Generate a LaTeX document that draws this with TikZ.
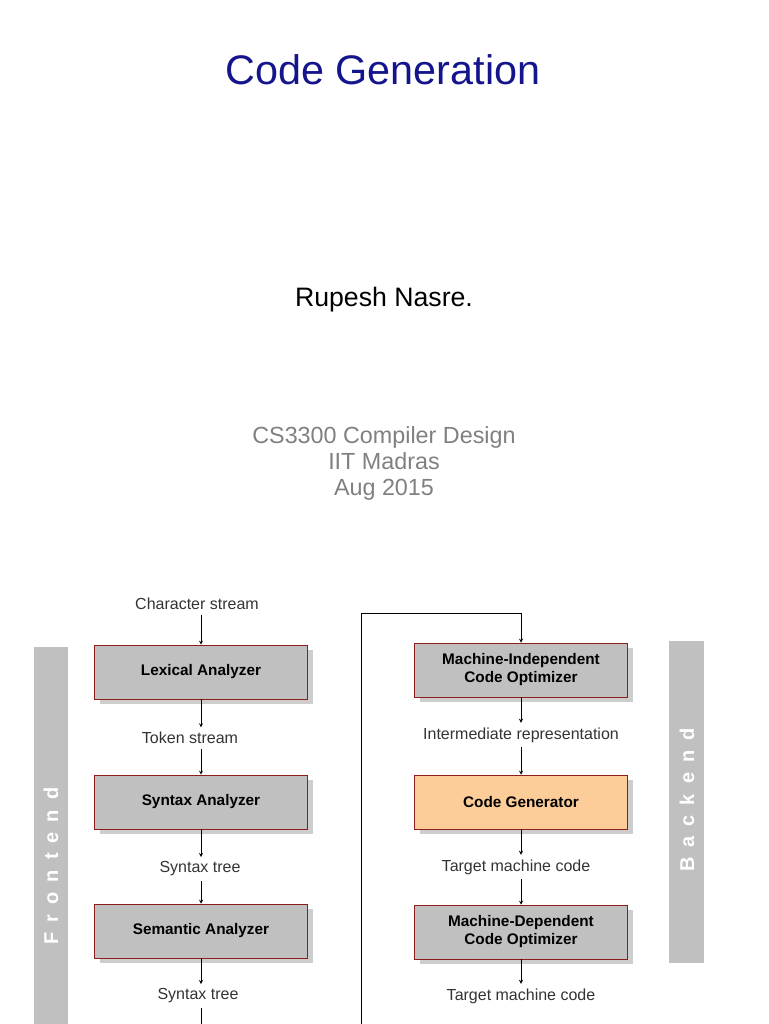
\documentclass[tikz,border=0pt]{standalone}
\usepackage{fontspec}
\setmainfont{Liberation Sans}
\usetikzlibrary{arrows,shadows}
\definecolor{navy}{RGB}{20,20,140}
\definecolor{boxgray}{RGB}{192,192,192}
\definecolor{shadowgray}{RGB}{205,205,205}
\definecolor{boxred}{RGB}{140,30,30}
\definecolor{peach}{RGB}{252,204,153}
\tikzset{drop shadow/.style={general shadow={fill=shadowgray, shadow xshift=4pt, shadow yshift=-4pt}}}
\tikzstyle{stage} = [rectangle, minimum width=160pt, minimum height=40.5pt, align=center, draw=boxred, fill=boxgray, font=\fontsize{11.5}{13.5}\selectfont\bfseries, drop shadow]
\tikzstyle{label} = [font=\fontsize{12}{14}\selectfont, text=black!80]
\tikzstyle{bar} = [fill=boxgray, draw=none]
\tikzstyle{arrow} = [->,>=stealth]
\begin{document}
\begin{tikzpicture}[x=0.75pt,y=-0.75pt]
		\useasboundingbox (0,0) rectangle (768,1024);
		\node (title) [text=navy, font=\fontsize{31}{35}\selectfont] at (383,70) {Code Generation};
		\node (author) [font=\fontsize{20}{23}\selectfont] at (384,300) {Rupesh Nasre.};
		\node (course) [text=black!50, align=center, font=\fontsize{17.5}{19.5}\selectfont] at (384,463) {CS3300 Compiler Design\\IIT Madras\\Aug 2015};
		% side bars
		\fill [bar] (34,647) rectangle (68,1024);
		\fill [bar] (669,641) rectangle (704,963);
		\node (front) [rotate=90, text=white, font=\fontsize{15}{18}\selectfont\bfseries] at (51,866) {F\,\,\,r\,\,\,o\,\,\,n\,\,\,t\,\,\,e\,\,\,n\,\,\,d};
		\node (back) [rotate=90, text=white, font=\fontsize{15}{18}\selectfont\bfseries] at (687,800) {B\,\,\,a\,\,\,c\,\,\,k\,\,\,e\,\,\,n\,\,\,d};
		% frontend
		\node (chars) [label] at (197,604) {Character stream};
		\node (lex) [stage] at (201,672) {Lexical Analyzer};
		\node (tokens) [label] at (190,738) {Token stream};
		\node (syn) [stage] at (201,802) {Syntax Analyzer};
		\node (tree1) [label] at (200,869) {Syntax tree};
		\node (sem) [stage] at (201,931) {Semantic Analyzer};
		\node (tree2) [label] at (198,996) {Syntax tree};
		\coordinate (down) at (201,1024);
		% backend
		\node (mi) [stage] at (521,670) {Machine-Independent\\Code Optimizer};
		\node (ir) [label] at (521,735) {Intermediate representation};
		\node (gen) [stage, fill=peach] at (521,802) {Code Generator};
		\node (tmc1) [label] at (516,867) {Target machine code};
		\node (md) [stage] at (521,932) {Machine-Dependent\\Code Optimizer};
		\node (tmc2) [label] at (521,996) {Target machine code};
		\coordinate (loopin) at (361,1024);
		\coordinate (looptop) at (361,613);
		\draw [arrow] (chars.south -| lex) -- (lex);
		\draw [arrow] (lex) -- (lex |- tokens.north);
		\draw [arrow] (tokens.south -| syn) -- (syn);
		\draw [arrow] (syn) -- (syn |- tree1.north);
		\draw [arrow] (tree1.south -| sem) -- (sem);
		\draw [arrow] (sem) -- (sem |- tree2.north);
		\draw (tree2.south -| down) -- (down);
		\draw [arrow] (loopin) -- (looptop) -| (mi);
		\draw [arrow] (mi) -- (ir);
		\draw [arrow] (ir) -- (gen);
		\draw [arrow] (gen) -- (gen |- tmc1.north);
		\draw [arrow] (tmc1.south -| md) -- (md);
		\draw [arrow] (md) -- (tmc2);
	\end{tikzpicture}
\end{document}
